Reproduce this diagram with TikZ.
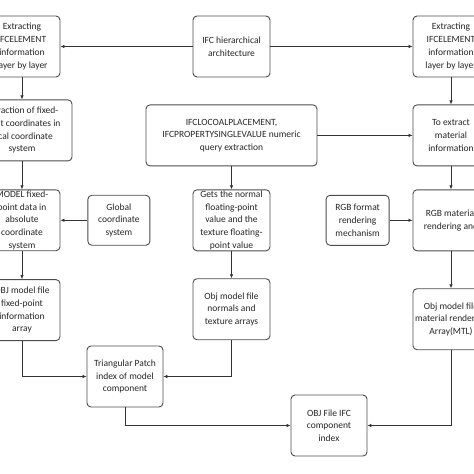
\documentclass[tikz,border=0pt]{standalone}
\usepackage{fontspec}
\setmainfont{Carlito}
\usetikzlibrary{positioning,arrows.meta}

\begin{document}
\begin{tikzpicture}[x=1pt,y=-1pt,
    blk/.style={draw=black!70, line width=0.9pt, rounded corners=4pt, align=center,
      minimum width=76pt, minimum height=61pt, inner sep=1pt, text=black!85,
      font=\fontsize{9.5}{12.7}\selectfont},
    arr/.style={draw=black!80, line width=0.7pt, -{Latex[length=4pt,width=3.5pt]}}]
  \useasboundingbox (0,0) rectangle (474,474);
  % left column
  \node[blk] (ext1) at (22,46.5) {Extracting\\IFCELEMENT\\information\\layer by layer};
  \node[blk, below=22pt of ext1, minimum width=100pt] (loc1) {Extraction of fixed-\\point coordinates in\\local coordinate\\system};
  \node[blk, below=28pt of loc1, minimum height=60pt] (abs1) {MODEL fixed-\\point data in\\absolute\\coordinate\\system};
  \node[blk, below=28pt of abs1] (arr1) {OBJ model file\\fixed-point\\information\\array};
  \node[blk, right=27pt of abs1, minimum width=62pt, minimum height=50pt] (glob) {Global\\coordinate\\system};
  % middle column
  \node[blk, minimum width=77pt] (hier) at (231.5,46.5) {IFC hierarchical\\architecture};
  \node[blk, below=27pt of hier, minimum width=171pt] (query) {IFCLOCOALPLACEMENT,\\IFCPROPERTYSINGLEVALUE numeric\\query extraction};
  \node[blk, below=23pt of query, minimum width=77pt] (gets) {Gets the normal\\floating-point\\value and the\\texture floating-\\point value};
  \node[blk, below=27pt of gets, minimum width=77pt] (nrm) {Obj model file\\normals and\\texture arrays};
  \node[blk] (tri) at (125,376.5) {Triangular Patch\\index of model\\component};
  \node[blk] (idx) at (329,425.5) {OBJ File IFC\\component\\index};
  % right column
  \node[blk] (ext2) at (451,46.5) {Extracting\\IFCELEMENT\\information\\layer by layer};
  \node[blk, below=27pt of ext2] (mat2) {To extract\\material\\information};
  \node[blk, below=23pt of mat2] (rgb2) {RGB material\\rendering and};
  \node[blk, below=37pt of rgb2] (mtl) {Obj model file\\material rendering\\Array(MTL)};
  \node[blk, left=23pt of rgb2, minimum width=63pt, minimum height=50pt] (rgbf) {RGB format\\rendering\\mechanism};

  \draw[arr] (hier) -- (ext1);
  \draw[arr] (hier) -- (ext2);
  \draw[arr] (ext1) -- (loc1);
  \draw[arr] (loc1) -- (abs1);
  \draw[arr] (abs1) -- (arr1);
  \draw[arr] (glob) -- (abs1);
  \draw[arr] (query) -- (gets);
  \draw[arr] (gets) -- (nrm);
  \draw[arr] (query) -- (mat2);
  \draw[arr] (ext2) -- (mat2);
  \draw[arr] (mat2) -- (rgb2);
  \draw[arr] (rgb2) -- (mtl);
  \draw[arr] (rgbf) -- (rgb2);
  \draw[arr] (arr1.south) |- (tri.west);
  \draw[arr] (nrm.south) |- (tri.east);
  \draw[arr] (tri.south) |- (idx.west);
  \draw[arr] (mtl.south) |- (idx.east);
\end{tikzpicture}
\end{document}
